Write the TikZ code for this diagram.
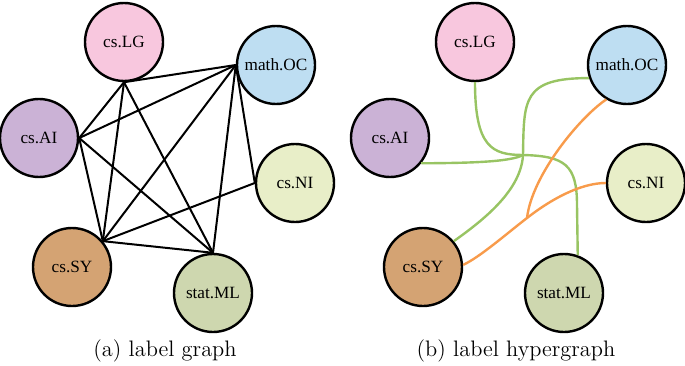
\documentclass[tikz,border=0pt]{standalone}
\usepackage{fontspec}
\newfontfamily\labelfont{Liberation Serif}
\definecolor{lgpink}{HTML}{F8C7DE}
\definecolor{ocblue}{HTML}{BEDEF2}
\definecolor{aipurple}{HTML}{CBB2D6}
\definecolor{niyellow}{HTML}{E8EEC8}
\definecolor{sybrown}{HTML}{D4A373}
\definecolor{mlgreen}{HTML}{CED7AF}
\definecolor{hgreen}{HTML}{98C463}
\definecolor{horange}{HTML}{F89B4B}
\tikzset{
    label node/.style={circle, draw=black, line width=1.2pt, minimum size=39pt, inner sep=0pt,
        font=\labelfont\fontsize{8.6}{10}\selectfont},
    edge/.style={line width=1pt, black},
    green edge/.style={line width=1.2pt, hgreen},
    orange edge/.style={line width=1.2pt, horange},
    caption/.style={font=\fontsize{11.2}{13}\selectfont}
}
\begin{document}
\begin{tikzpicture}[x=0.5pt, y=0.5pt]
    \useasboundingbox (0,0) rectangle (685,365);

    % (a) label graph
    \node[label node, fill=lgpink] (lg) at (124,323) {cs.LG};
    \node[label node, fill=ocblue] (oc) at (276,300) {math.OC};
    \node[label node, fill=aipurple] (ai) at (39,227) {cs.AI};
    \node[label node, fill=niyellow] (ni) at (295,182) {cs.NI};
    \node[label node, fill=sybrown] (sy) at (72,98) {cs.SY};
    \node[label node, fill=mlgreen] (ml) at (213,72) {stat.ML};

    \draw[edge] (lg.south) -- (oc.west);
    \draw[edge] (lg.south) -- (ai.east);
    \draw[edge] (lg.south) -- (sy.40);
    \draw[edge] (lg.south) -- (ml.north);
    \draw[edge] (ai.east) -- (oc.west);
    \draw[edge] (ai.east) -- (sy.40);
    \draw[edge] (ai.east) -- (ml.north);
    \draw[edge] (oc.west) -- (sy.40);
    \draw[edge] (oc.west) -- (ml.north);
    \draw[edge] (oc.west) -- (ni.west);
    \draw[edge] (ni.west) -- (sy.40);
    \draw[edge] (sy.40) -- (ml.north);

    \node[caption] (capa) at (165,14) {(a) label graph};

    % (b) label hypergraph
    \node[label node, fill=lgpink] (lg2) at (475,323) {cs.LG};
    \node[label node, fill=ocblue] (oc2) at (627,300) {math.OC};
    \node[label node, fill=aipurple] (ai2) at (390,227) {cs.AI};
    \node[label node, fill=niyellow] (ni2) at (646,182) {cs.NI};
    \node[label node, fill=sybrown] (sy2) at (423,98) {cs.SY};
    \node[label node, fill=mlgreen] (ml2) at (564,72) {stat.ML};

    \coordinate (j1) at (523,210);
    \coordinate (j2) at (527,147);

    \draw[green edge] (lg2.south) .. controls (475,218) and (492,210) .. (j1);
    \draw[green edge] (ai2.-39) .. controls (470,202) and (510,203) .. (j1);
    \draw[green edge] (oc2.199) .. controls (522,287) and (524,265) .. (j1);
    \draw[green edge] (j1) .. controls (521,175) and (485,146) .. (sy2.40);
    \draw[green edge] (j1) .. controls (565,209) and (577,200) .. (577,160) -- (ml2.70);

    \draw[orange edge] (oc2.239) .. controls (580,248) and (532,190) .. (j2);
    \draw[orange edge] (sy2.3) .. controls (480,108) and (505,130) .. (j2)
        .. controls (550,165) and (580,182) .. (ni2.west);

    \node[caption] (capb) at (516,14) {(b) label hypergraph};
\end{tikzpicture}
\end{document}
